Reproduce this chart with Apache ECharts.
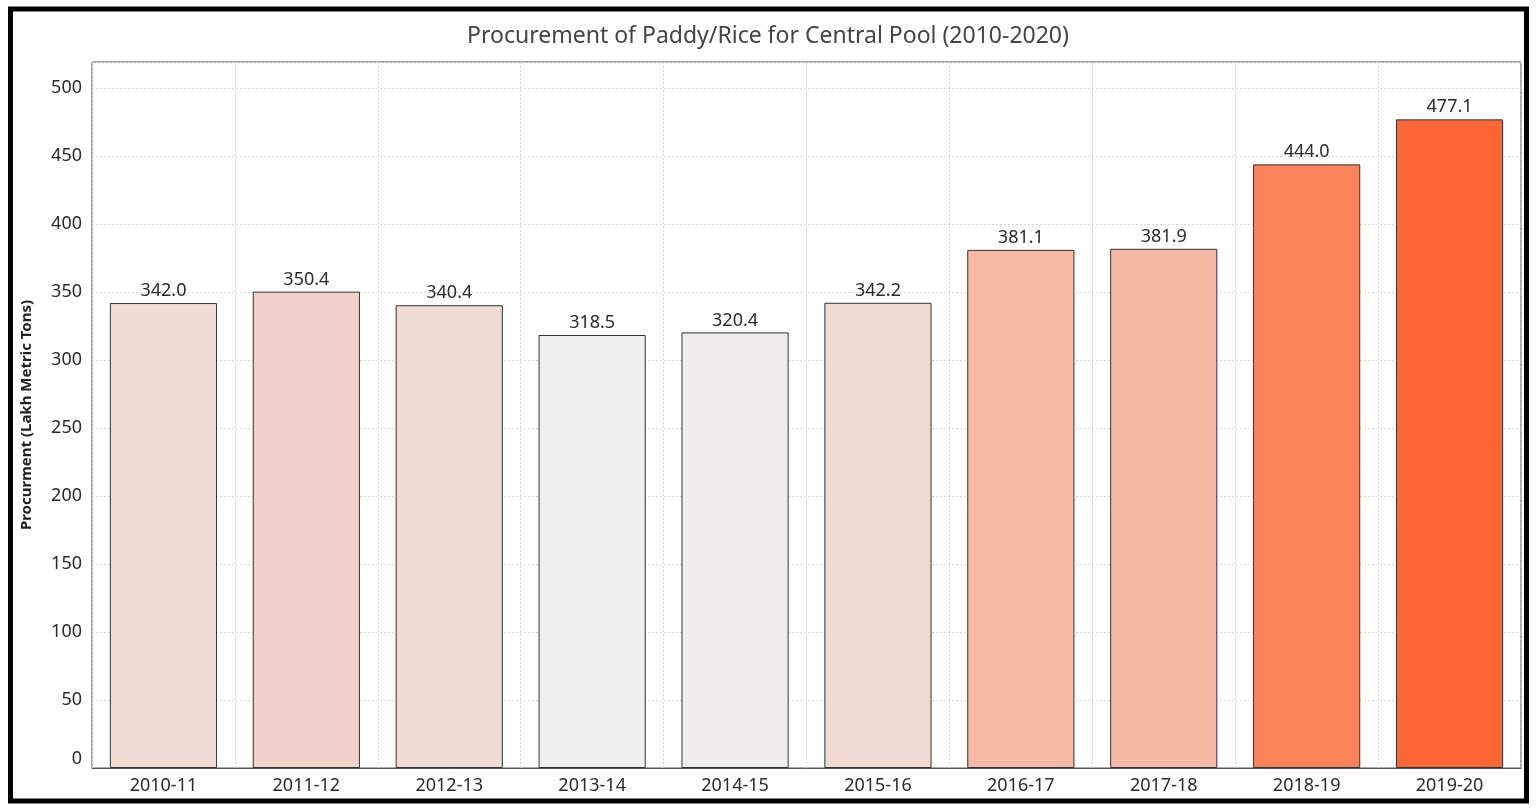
<!DOCTYPE html>
<html>
<head>
<meta charset="utf-8">
<script src="https://cdn.jsdelivr.net/npm/echarts@6/dist/echarts.min.js"></script>
<style>
html,body{margin:0;padding:0;background:#fff;}
#chart{width:1536px;height:812px;}
</style>
</head>
<body>
<div id="chart"></div>
<script>
const categories = ['2010-11','2011-12','2012-13','2013-14','2014-15','2015-16','2016-17','2017-18','2018-19','2019-20'];
const procurement = [342.0, 350.4, 340.4, 318.5, 320.4, 342.2, 381.1, 381.9, 444.0, 477.1];
const chartTitle = 'Procurement of Paddy/Rice for Central Pool (2010-2020)';
const yAxisName = 'Procurment (Lakh Metric Tons)';

const FONT = '"Noto Sans", "Open Sans", sans-serif';
const chart = echarts.init(document.getElementById('chart'));
chart.setOption({
  backgroundColor: '#ffffff',
  animation: false,
  title: {
    text: chartTitle,
    left: 'center',
    top: 20,
    textStyle: {fontFamily: FONT, fontSize: 23, fontWeight: 'normal', color: '#444'}
  },
  grid: {
    left: 92, right: 15, top: 62, bottom: 44,
    show: true, borderColor: '#555', borderWidth: 1
  },
  visualMap: {
    show: false,
    type: 'continuous',
    dimension: 1,
    min: Math.min(...procurement),
    max: Math.max(...procurement),
    inRange: {color: ['#efefef', '#ff6633']}
  },
  xAxis: {
    type: 'category',
    data: categories,
    axisLine: {show: true, lineStyle: {color: '#555', width: 1}},
    axisTick: {show: false},
    axisLabel: {fontFamily: FONT, fontSize: 18, color: '#2a2a2a', margin: 9},
    splitLine: {show: true, lineStyle: {color: '#d4d4d4', type: [2, 2], width: 1}}
  },
  yAxis: {
    type: 'value',
    min: 0,
    max: 519.3,
    interval: 50,
    name: yAxisName,
    nameLocation: 'middle',
    nameGap: 58,
    nameTextStyle: {fontFamily: FONT, fontSize: 15, fontWeight: 'bold', color: '#222'},
    axisLine: {show: false},
    axisTick: {show: false},
    axisLabel: {
      fontFamily: FONT, fontSize: 18, color: '#2a2a2a', margin: 10,
      showMaxLabel: false,
      verticalAlignMinLabel: 'bottom'
    },
    splitLine: {show: true, lineStyle: {color: '#d4d4d4', type: [2, 2], width: 1}}
  },
  series: [{
    type: 'bar',
    data: procurement,
    barCategoryGap: '25%',
    itemStyle: {borderColor: '#333', borderWidth: 1},
    label: {
      show: true,
      position: 'top',
      distance: 3,
      fontFamily: FONT,
      fontSize: 18,
      color: '#2a2a2a',
      formatter: p => p.value.toFixed(1)
    }
  }],
  graphic: [{
    type: 'rect',
    shape: {x: 10.5, y: 9, width: 1516, height: 792},
    style: {fill: 'none', stroke: '#000', lineWidth: 5},
    silent: true,
    z: 100
  }]
});
</script>
</body>
</html>
